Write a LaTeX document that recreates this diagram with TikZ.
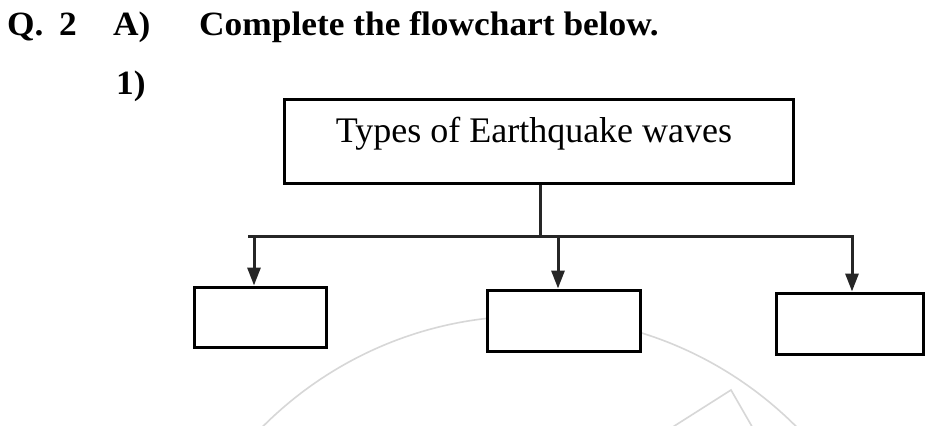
\documentclass[tikz,border=0pt]{standalone}
\usepackage{fontspec}
\setmainfont{Liberation Serif}
\newfontfamily\headfont[FakeStretch=1.04]{Liberation Serif}
\usetikzlibrary{arrows.meta}
\definecolor{wm}{RGB}{215,215,215}
\tikzset{
  box/.style={draw=black, line width=3pt, inner sep=0pt, fill=none},
  conn/.style={draw=black!85, line width=3pt},
  arr/.style={conn, -{Triangle[length=18pt,width=13pt]}},
  head/.style={anchor=base west, inner sep=0pt, font=\headfont\bfseries\fontsize{34}{38}\selectfont},
  wmark/.style={draw=wm, line width=1.6pt}
}
\begin{document}
\begin{tikzpicture}[x=1pt,y=-1pt]
\useasboundingbox[fill=white] (0,0) rectangle (930,426);
% faint watermark
\begin{scope}
\clip (0,0) rectangle (930,426);
\draw[wmark] (529.5,693) circle[radius=377];
\draw[wmark] (668,430) -- (731,390) -- (754,430);
\end{scope}
% heading
\node[head] (q) at (7,35) {Q.};
\node[head] (qn) at (59,35) {2};
\node[head] (pa) at (113,35) {A)};
\node[head] (title) at (199,35) {Complete the flowchart below.};
\node[head] (one) at (116,94) {1)};
% boxes
\node[box, minimum width=509pt, minimum height=84pt, fill=white] (top) at (538.5,141) {};
\node[anchor=base, inner sep=0pt, font=\fontsize{36}{40}\selectfont] (tt) at (534,142) {Types of Earthquake waves};
\node[box, minimum width=132pt, minimum height=60pt, fill=white] (L) at (260,317) {};
\node[box, minimum width=153pt, minimum height=61pt, fill=white] (M) at (563.5,320.5) {};
\node[box, minimum width=147pt, minimum height=61pt, fill=white] (R) at (849.5,323.5) {};
% connectors
\coordinate (j) at (540,236);
\coordinate (bl) at (248,236);
\coordinate (br) at (853.5,236);
\coordinate (al) at (254,236);
\coordinate (am) at (558,236);
\coordinate (ar) at (852,236);
\draw[conn] (top.south -| j) -- (j);
\draw[conn] (bl) -- (br);
\draw[arr] (al) -- (L.north -| al);
\draw[arr] (am) -- (M.north -| am);
\draw[arr] (ar) -- (R.north -| ar);
\end{tikzpicture}
\end{document}
